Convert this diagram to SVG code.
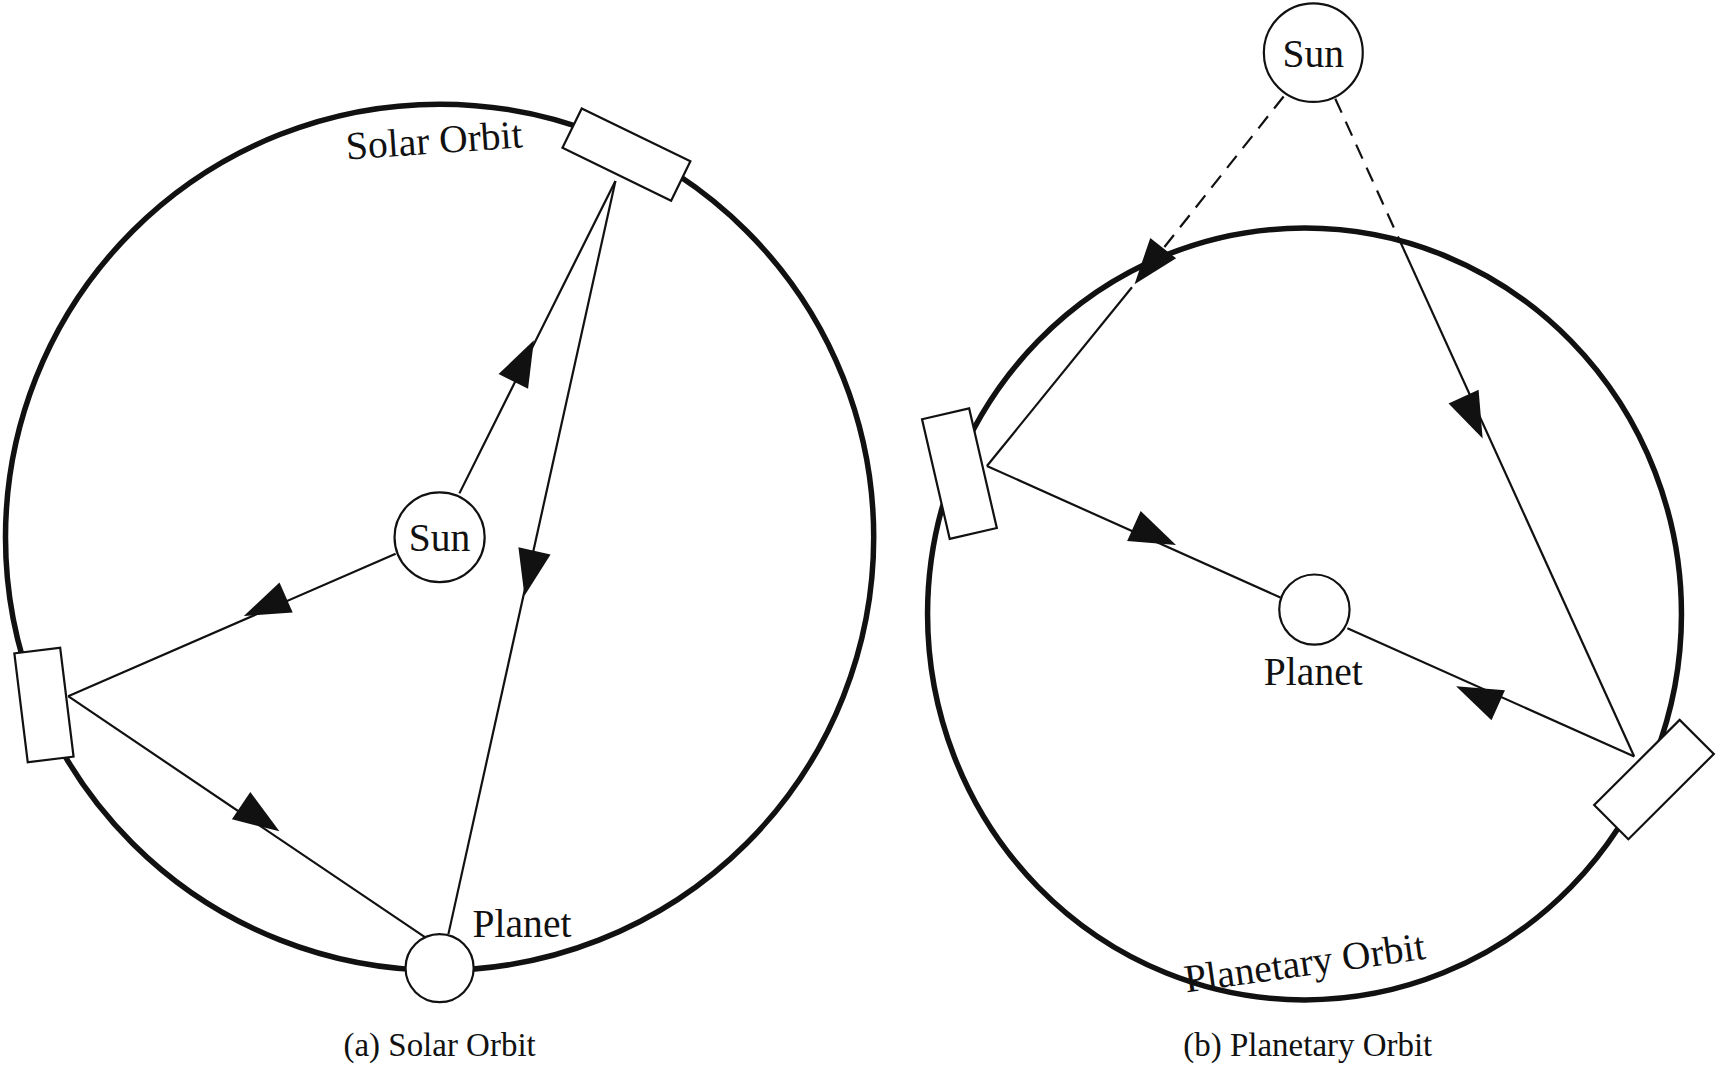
<svg xmlns="http://www.w3.org/2000/svg" width="1720" height="1069" viewBox="0 0 1720 1069">
<style>
.orbit{fill:none;stroke:#111;stroke-width:5}
.ln{fill:none;stroke:#111;stroke-width:2}
.dash{fill:none;stroke:#111;stroke-width:2;stroke-dasharray:14,9}
.node{fill:#fff;stroke:#111;stroke-width:2}
text{font-family:"Liberation Serif",serif;fill:#111;text-anchor:middle}
.lbl{font-size:36px}
.cap{font-size:30px}
</style>
<defs><path id="ah" d="M22,0 L-20,-15 L-20,15 Z" fill="#111"/></defs>
<rect width="1720" height="1069" fill="#fff"/>
<g transform="scale(1.099,1.0964)">
<g id="orbits">
<circle class="orbit" cx="400" cy="490" r="395"/>
<ellipse class="orbit" cx="1187" cy="560" rx="343" ry="352"/>
</g>
<g id="connectors">
<line class="ln" x1="418" y1="450" x2="560" y2="165"/>
<line class="ln" x1="560" y1="165" x2="408" y2="852"/>
<line class="ln" x1="360" y1="505" x2="62" y2="635"/>
<line class="ln" x1="62" y1="635" x2="390" y2="857"/>
<line class="dash" x1="1168" y1="88" x2="1040" y2="250"/>
<line class="dash" x1="1215" y1="90" x2="1273" y2="218"/>
<line class="ln" x1="1273" y1="218" x2="1487" y2="690"/>
<line class="ln" x1="898" y1="425" x2="1030" y2="262"/>
<line class="ln" x1="898" y1="425" x2="1165" y2="545"/>
<line class="ln" x1="1226" y1="573" x2="1487" y2="690"/>
<use href="#ah" transform="translate(476,330) rotate(-63.5)"/>
<use href="#ah" transform="translate(482,522) rotate(102.5)"/>
<use href="#ah" transform="translate(242,553) rotate(156.4)"/>
<use href="#ah" transform="translate(236,746) rotate(33.9)"/>
<use href="#ah" transform="translate(1046,242) rotate(128.4)"/>
<use href="#ah" transform="translate(1340,380) rotate(65.6)"/>
<use href="#ah" transform="translate(1050,488) rotate(24.2)"/>
<use href="#ah" transform="translate(1345,635) rotate(204.1)"/>
</g>
<g id="sun-a"><circle class="node" cx="400" cy="490" r="41"/><text class="lbl" x="400" y="503">Sun</text></g>
<g id="sat-a1"><rect class="node" x="-55" y="-20" width="110" height="40" transform="translate(570,141) rotate(26)"/></g>
<g id="sat-a2"><rect class="node" x="-21" y="-50" width="42" height="100" transform="translate(40,643) rotate(-7)"/></g>
<g id="planet-a"><circle class="node" cx="400" cy="883" r="31"/><text class="lbl" x="475" y="855">Planet</text></g>
<text class="lbl" x="395" y="140" transform="rotate(-4 395 128)">Solar Orbit</text>
<text class="cap" x="400" y="963">(a) Solar Orbit</text>
<g id="sun-b"><circle class="node" cx="1195" cy="48" r="45"/><text class="lbl" x="1195" y="61">Sun</text></g>
<g id="sat-b1"><rect class="node" x="-22" y="-56" width="44" height="112" transform="translate(873,432) rotate(-13)"/></g>
<g id="sat-b2"><rect class="node" x="-55" y="-22" width="110" height="44" transform="translate(1505,711) rotate(-45)"/></g>
<g id="planet-b"><circle class="node" cx="1196" cy="556" r="32"/><text class="lbl" x="1195" y="625">Planet</text></g>
<text class="lbl" x="1187" y="890" transform="rotate(-8 1187 878)">Planetary Orbit</text>
<text class="cap" x="1190" y="963">(b) Planetary Orbit</text>
</g>
</svg>
